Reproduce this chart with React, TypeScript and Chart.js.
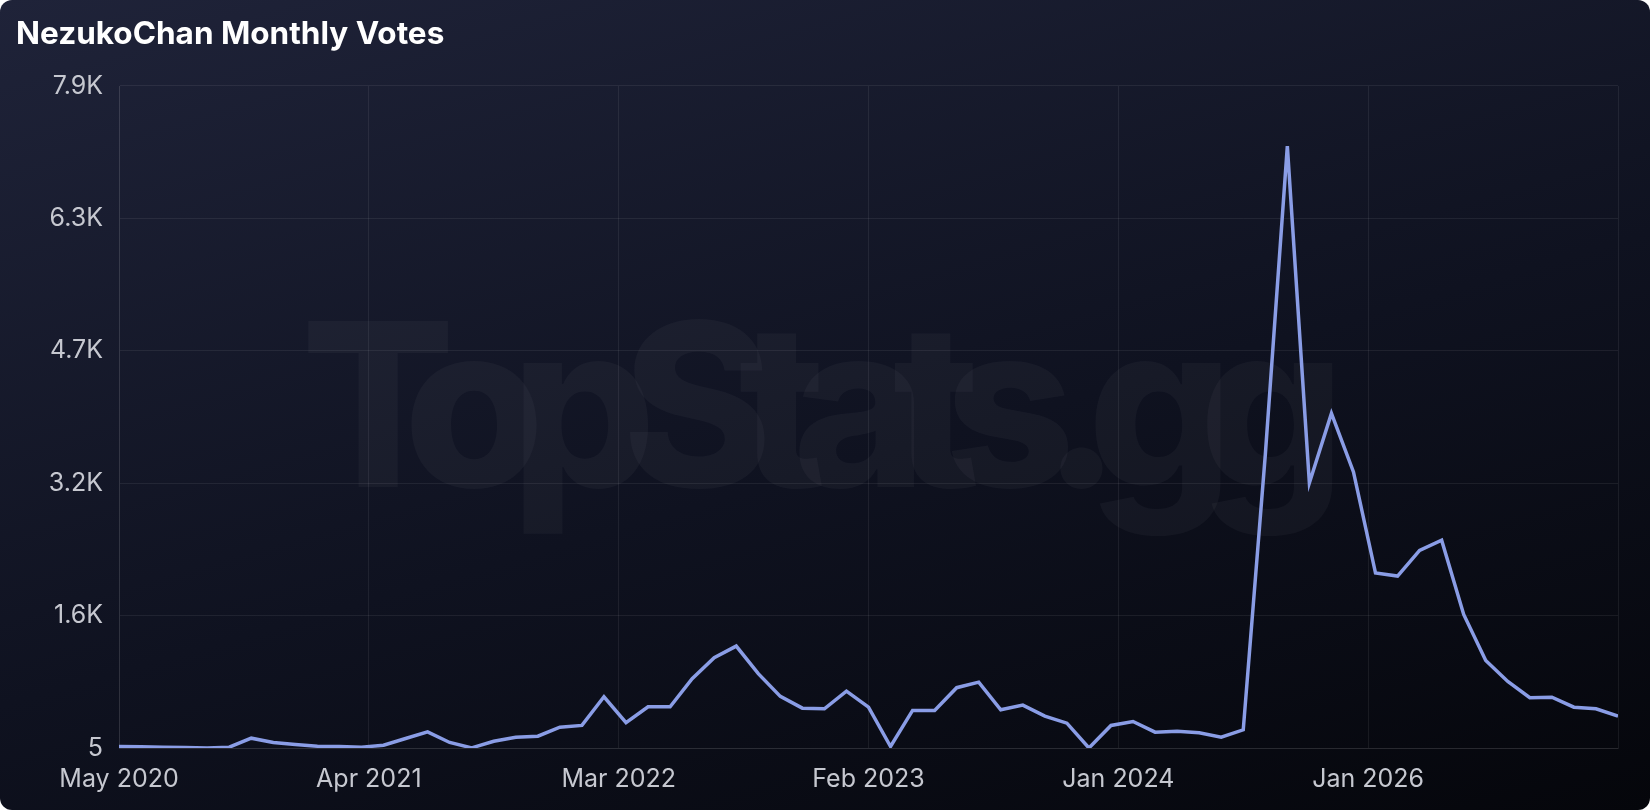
import React, { useEffect, useRef } from 'react';
import { Chart, registerables } from 'chart.js';

Chart.register(...registerables);

const TITLE = 'NezukoChan Monthly Votes';
const WATERMARK = 'TopStats.gg';

// Monthly vote counts, one per point (left to right)
const VOTES: number[] = [
  23, 19, 15, 11, 5, 15, 122, 71, 47, 27, 23, 15,
  38, 118, 198, 71, 7, 86, 134, 146, 253, 274, 616, 306,
  497, 497, 831, 1082, 1220, 891, 620, 480, 473, 683, 492, 23,
  453, 453, 724, 790, 461, 516, 385, 301, 5, 274, 321, 194,
  206, 186, 134, 222, 3500, 7180, 3165, 3994, 3297, 2091, 2055, 2362,
  2482, 1598, 1049, 799, 604, 611, 492, 473, 385,
];

// Labels shown under the evenly spaced x grid lines
const X_TICK_LABELS: string[] = ['May 2020', 'Apr 2021', 'Mar 2022', 'Feb 2023', 'Jan 2024', 'Jan 2026', ''];
const Y_TICK_COUNT = 6;

const LINE_COLOR = '#8a9de6';
const GRID_COLOR = 'rgba(255,255,255,0.07)';
const TICK_COLOR = '#c6c8d0';
const FONT = 'Inter, "Noto Sans", sans-serif';

function formatVotes(v: number): string {
  if (v < 1000) return String(Math.round(v));
  return (v / 1000).toFixed(1) + 'K';
}

export default function App() {
  const ref = useRef<HTMLCanvasElement>(null);

  useEffect(() => {
    document.body.style.margin = '0';
    document.body.style.background = '#ffffff';
    const canvas = ref.current;
    if (!canvas) return;

    const lastIndex = VOTES.length - 1;
    const yMin = Math.min(...VOTES);
    const yMax = Math.max(...VOTES) * 1.1;
    const xIntervals = X_TICK_LABELS.length - 1;

    const decor = {
      id: 'decor',
      beforeDraw(chart: any) {
        const ctx = chart.ctx as CanvasRenderingContext2D;
        ctx.save();
        ctx.font = `800 228px ${FONT}`;
        (ctx as any).letterSpacing = '-34px';
        ctx.fillStyle = 'rgba(255,255,255,0.035)';
        ctx.textAlign = 'center';
        ctx.textBaseline = 'alphabetic';
        ctx.fillText(WATERMARK, 806, 487);
        ctx.restore();
      },
      afterDraw(chart: any) {
        const ctx = chart.ctx as CanvasRenderingContext2D;
        ctx.save();
        ctx.font = `700 31.5px ${FONT}`;
        ctx.fillStyle = '#ffffff';
        ctx.textAlign = 'left';
        ctx.textBaseline = 'alphabetic';
        ctx.fillText(TITLE, 16, 44);
        ctx.restore();
      },
    };

    const chart = new Chart(canvas, {
      type: 'line',
      data: {
        datasets: [
          {
            data: VOTES.map((v, i) => ({ x: i, y: v })),
            borderColor: LINE_COLOR,
            backgroundColor: LINE_COLOR,
            borderWidth: 3.5,
            pointRadius: 0,
            pointHoverRadius: 0,
            tension: 0,
            fill: false,
          },
        ],
      },
      options: {
        animation: false,
        responsive: false,
        devicePixelRatio: 1,
        layout: { padding: { left: 16, right: 32, top: 86, bottom: 0 } },
        plugins: {
          legend: { display: false },
          tooltip: { enabled: false },
          title: { display: false },
        },
        scales: {
          x: {
            type: 'linear',
            min: 0,
            max: lastIndex,
            afterBuildTicks: (scale: any) => {
              scale.ticks = X_TICK_LABELS.map((_, i) => ({ value: (i * lastIndex) / xIntervals }));
            },
            afterFit: (scale: any) => {
              scale.height = 62;
            },
            ticks: {
              autoSkip: false,
              maxRotation: 0,
              padding: 16,
              color: TICK_COLOR,
              font: { family: FONT, size: 25 },
              callback: (_v: any, i: number) => X_TICK_LABELS[i],
            },
            grid: { color: GRID_COLOR, drawTicks: false },
            border: { color: GRID_COLOR },
          },
          y: {
            type: 'linear',
            min: yMin,
            max: yMax,
            afterBuildTicks: (scale: any) => {
              const t = [];
              for (let i = 0; i < Y_TICK_COUNT; i++) {
                t.push({ value: yMin + (i * (yMax - yMin)) / (Y_TICK_COUNT - 1) });
              }
              scale.ticks = t;
            },
            afterFit: (scale: any) => {
              scale.width = 103;
            },
            ticks: {
              padding: 16,
              color: TICK_COLOR,
              font: { family: FONT, size: 25 },
              callback: (v: any) => formatVotes(Number(v)),
            },
            grid: { color: GRID_COLOR, drawTicks: false },
            border: { color: GRID_COLOR },
          },
        },
      },
      plugins: [decor],
    } as any);

    return () => {
      chart.destroy();
    };
  }, []);

  return (
    <div
      style={{
        position: 'relative',
        width: 1650,
        height: 810,
        borderRadius: 12,
        overflow: 'hidden',
        background: 'linear-gradient(164deg, #1f2339 0%, #0f1220 55%, #05060b 100%)',
      }}
    >
      <canvas ref={ref} width={1650} height={810} style={{ display: 'block', width: 1650, height: 810 }} />
    </div>
  );
}
